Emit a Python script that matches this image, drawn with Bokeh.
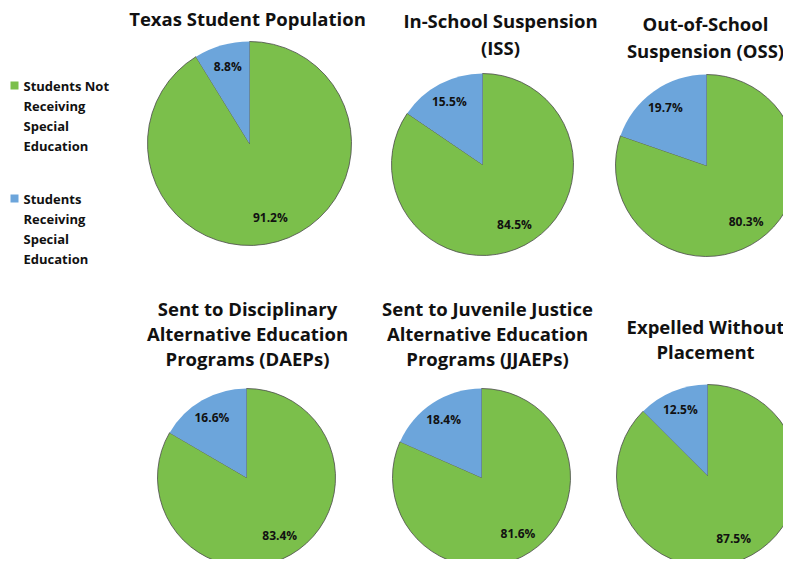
import math
from bokeh.plotting import figure
from bokeh.models import Range1d
from bokeh.core.properties import value
from bokeh.embed import file_html
from bokeh.resources import INLINE

# ---- data ----
chart_titles = [
    ["Texas Student Population"],
    ["In-School Suspension", "(ISS)"],
    ["Out-of-School", "Suspension (OSS)"],
    ["Sent to Disciplinary", "Alternative Education", "Programs (DAEPs)"],
    ["Sent to Juvenile Justice", "Alternative Education", "Programs (JJAEPs)"],
    ["Expelled Without", "Placement"],
]
pct_special = [8.8, 15.5, 19.7, 16.6, 18.4, 12.5]
pct_not_special = [91.2, 84.5, 80.3, 83.4, 81.6, 87.5]
series_names = [["Students Not", "Receiving", "Special", "Education"],
                ["Students", "Receiving", "Special", "Education"]]

GREEN = "#7BBF4B"
BLUE = "#6CA5DB"
FONT = "Open Sans"

# ---- layout (screen pixel positions) ----
W, H = 783, 559
def X(sx):
    return sx
def Y(sy):
    return H - sy

pie_centers = [(249, 143), (482, 164), (706, 165), (246, 477), (481, 477), (707, 475)]
pie_radius = [102, 91, 91, 89, 89, 91]
title_centers = [(247, 18), (500, 20), (705, 23), (247, 308), (487, 308), (705, 326)]
title_step = [26, 27, 27, 25, 25, 25]

p = figure(width=W, height=H, output_backend="svg", toolbar_location=None,
           x_range=Range1d(0, W), y_range=Range1d(0, H), min_border=0,
           background_fill_color="white", border_fill_color="white")
p.axis.visible = False
p.grid.visible = False
p.outline_line_color = None

bx, by, br, bs, be = [], [], [], [], []
gx, gy, gr, gs, ge = [], [], [], [], []
lx, ly, lt = [], [], []
for i, (c, r) in enumerate(zip(pie_centers, pie_radius)):
    cx, cy = X(c[0]), Y(c[1])
    ab = 2 * math.pi * pct_special[i] / 100.0
    ag = 2 * math.pi * pct_not_special[i] / 100.0
    bx.append(cx); by.append(cy); br.append(r)
    bs.append(math.pi / 2); be.append(math.pi / 2 + ab)
    gx.append(cx); gy.append(cy); gr.append(r)
    gs.append(math.pi / 2 + ab); ge.append(math.pi / 2 + ab + ag)
    mb = math.pi / 2 + ab / 2
    lx.append(cx + 0.78 * r * math.cos(mb)); ly.append(cy + 0.78 * r * math.sin(mb))
    lt.append(f"{pct_special[i]:.1f}%")
    mg = math.pi / 2 + ab + ag / 2
    lx.append(cx + 0.75 * r * math.cos(mg)); ly.append(cy + 0.75 * r * math.sin(mg))
    lt.append(f"{pct_not_special[i]:.1f}%")

p.wedge(x=gx, y=gy, radius=gr, start_angle=gs, end_angle=ge, direction="anticlock",
        fill_color=GREEN, line_color="#4a4a4a", line_width=0.8)
p.wedge(x=bx, y=by, radius=br, start_angle=bs, end_angle=be, direction="anticlock",
        fill_color=BLUE, line_color=None)
p.text(x=lx, y=ly, text=lt, text_font=value(FONT), text_font_style="bold",
       text_font_size="12px", text_color="#111111", text_align="center",
       text_baseline="middle")

# titles
tx, ty, tt = [], [], []
for i, lines in enumerate(chart_titles):
    for j, line in enumerate(lines):
        tx.append(X(title_centers[i][0]))
        ty.append(Y(title_centers[i][1] + j * title_step[i]))
        tt.append(line)
p.text(x=tx, y=ty, text=tt, text_font=value(FONT), text_font_style="bold",
       text_font_size="18.5px", text_color="#111111", text_align="center",
       text_baseline="middle")

# legend
leg_colors = [GREEN, BLUE]
leg_top = [85, 198]
for k in range(2):
    p.rect(x=[X(14)], y=[Y(leg_top[k])], width=8, height=8, fill_color=leg_colors[k], line_color=None)
    lines = series_names[k]
    p.text(x=[X(23)] * len(lines), y=[Y(leg_top[k] + 20 * j) for j in range(len(lines))],
           text=lines, text_font=value(FONT), text_font_style="bold",
           text_font_size="13px", text_color="#111111", text_align="left",
           text_baseline="middle")

open("out.html", "w").write(file_html(p, INLINE))
